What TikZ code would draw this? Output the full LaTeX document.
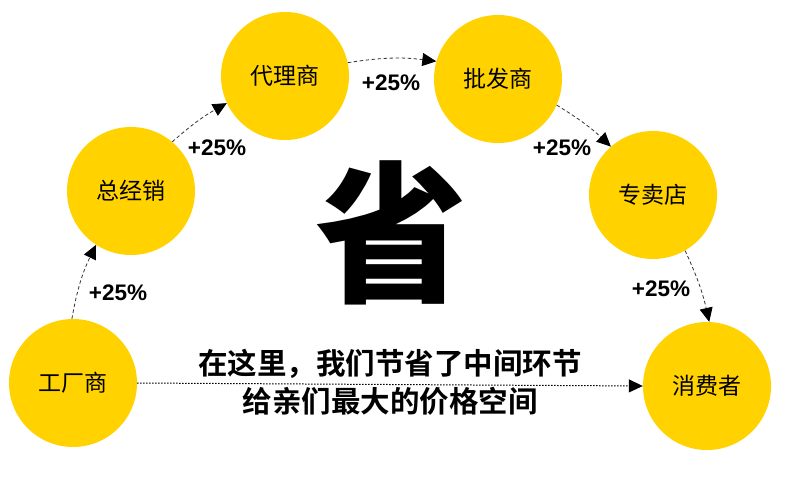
\documentclass[tikz,border=0pt]{standalone}
\usepackage{fontspec}
\setmainfont{Liberation Sans}
\newfontfamily\cjk{Noto Sans CJK SC}
\newfontfamily\cjkbold{Noto Sans CJK SC Bold}
\newfontfamily\cjkblack{Noto Sans CJK SC Black}
\usetikzlibrary{arrows.meta}
\definecolor{gold}{RGB}{255,210,0}
\tikzset{
  stage/.style={circle,fill=gold,minimum size=128pt,inner sep=0pt,font=\cjk\fontsize{23}{23}\selectfont},
  flow/.style={draw=black!80,line width=0.8pt,dash pattern=on 3.5pt off 2.5pt,-{Triangle[length=14pt,width=13pt,color=black]}},
  direct/.style={draw=black,line width=1pt,dash pattern=on 1.4pt off 1.6pt,-{Triangle[length=14pt,width=13pt,color=black]}},
  pct/.style={font=\bfseries\fontsize{22.5}{22.5}\selectfont,inner sep=0pt},
}
\begin{document}
\begin{tikzpicture}[x=1pt,y=1pt]
\useasboundingbox (0,0) rectangle (790,-480);
\node[stage] (gc) at (73,-383) {工厂商};
\node[stage] (zj) at (131,-191) {总经销};
\node[stage] (dl) at (285,-76) {代理商};
\node[stage] (pf) at (498,-79) {批发商};
\node[stage] (zm) at (653,-195) {专卖店};
\node[stage] (xf) at (707,-386) {消费者};
\draw[flow] (gc.91) to[bend left=8] (zj.237);
\draw[flow] (zj.50) to[bend left=6] (dl.205);
\draw[flow] (dl.12) to[bend left=8] (pf.164);
\draw[flow] (pf.-24) to[bend left=6] (zm.131);
\draw[flow] (zm.-60) to[bend left=6] (xf.88);
\draw[direct] (gc.east) -- (xf.west);
\node[pct] (p1) at (118,-293) {+25\%};
\node[pct] (p2) at (217,-148) {+25\%};
\node[pct] (p3) at (391,-83) {+25\%};
\node[pct] (p4) at (562,-148) {+25\%};
\node[pct] (p5) at (661,-289) {+25\%};
\node[font=\cjkblack\fontsize{152}{152}\selectfont,inner sep=0pt] (sheng) at (391,-233) {省};
\node[font=\cjkbold\fontsize{29.5}{29.5}\selectfont,inner sep=0pt] (t1) at (390,-364) {在这里，我们节省了中间环节};
\node[font=\cjkbold\fontsize{29.5}{29.5}\selectfont,inner sep=0pt] (t2) at (390,-401) {给亲们最大的价格空间};
\end{tikzpicture}
\end{document}
